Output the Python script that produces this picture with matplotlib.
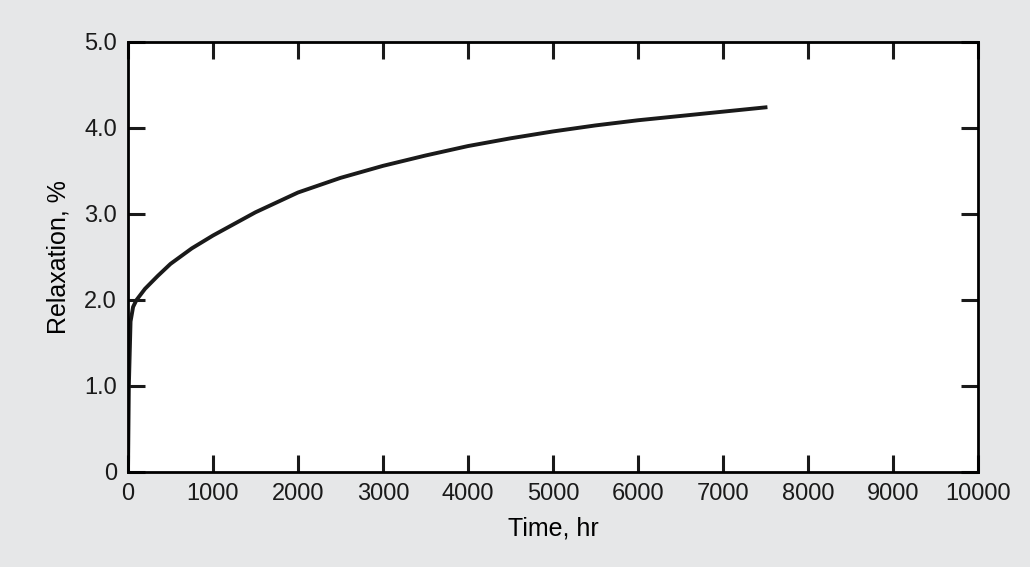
import matplotlib
matplotlib.use("Agg")
import matplotlib.pyplot as plt

time_hr = [0, 10, 30, 60, 100, 200, 350, 500, 750, 1000, 1500, 2000, 2500, 3000, 3500, 4000, 4500, 5000, 5500, 6000, 6500, 7000, 7500]
relax = [0, 1.0, 1.75, 1.92, 2.0, 2.13, 2.28, 2.42, 2.6, 2.75, 3.02, 3.25, 3.42, 3.56, 3.68, 3.79, 3.88, 3.96, 4.03, 4.09, 4.14, 4.19, 4.24]
xticks = list(range(0, 10001, 1000))
yticks = [0, 1, 2, 3, 4, 5]
ylabels = ["0", "1.0", "2.0", "3.0", "4.0", "5.0"]

plt.rcParams['font.family'] = ['Liberation Sans', 'DejaVu Sans']
fig = plt.figure(figsize=(10.3, 5.67), dpi=100, facecolor="#e6e7e8")
ax = fig.add_axes([128/1030, 1-472/567, 850/1030, 430/567])
ax.set_facecolor("white")
ax.plot(time_hr, relax, color="#1a1a1a", lw=2.8)
ax.set_xlim(0, 10000)
ax.set_ylim(0, 5)
ax.set_xticks(xticks)
ax.set_yticks(yticks)
ax.set_yticklabels(ylabels)
ax.tick_params(direction="in", length=12, width=2.2, labelsize=17, top=True, right=True, pad=8, colors="#1a1a1a")
for s in ax.spines.values():
    s.set_linewidth(2)
ax.set_xlabel("Time, hr", fontsize=18, labelpad=8)
ax.set_ylabel("Relaxation, %", fontsize=18, labelpad=10)
fig.savefig("out.png", dpi=100, facecolor=fig.get_facecolor())
